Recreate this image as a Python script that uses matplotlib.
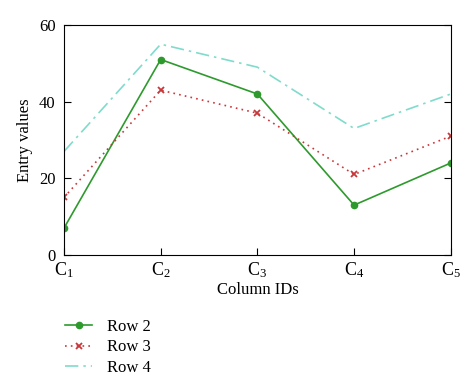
import matplotlib.pyplot as plt

plt.rcParams['font.family'] = 'Liberation Serif'
plt.rcParams['mathtext.default'] = 'regular'

columns = ['C$_1$', 'C$_2$', 'C$_3$', 'C$_4$', 'C$_5$']
row2 = [7, 51, 42, 13, 24]
row3 = [15, 43, 37, 21, 31]
row4 = [27, 55, 49, 33, 42]

fig = plt.figure(figsize=(4.74, 3.91), dpi=100)
ax = fig.add_axes([0.135, 0.348, 0.816, 0.588])
x = range(len(columns))
ax.plot(x, row2, color='#2e9a2e', lw=1.2, marker='o', ms=4.5, label='Row 2')
ax.plot(x, row3, color='#c8383a', lw=1.2, ls=(0, (1, 2.5)), marker='x', ms=5, mew=1.3, label='Row 3')
ax.plot(x, row4, color='#7fdccc', lw=1.2, ls=(0, (8, 3, 1.5, 3)), label='Row 4')

ax.set_xlim(0, 4)
ax.set_ylim(0, 60)
ax.set_xticks(list(x))
ax.set_xticklabels(columns, fontsize=13)
ax.set_yticks([0, 20, 40, 60])
ax.tick_params(axis='y', labelsize=12, direction='in', right=True, length=5, pad=6)
ax.tick_params(axis='x', direction='in', length=5, pad=4)
ax.set_xlabel('Column IDs', fontsize=12, labelpad=1)
ax.set_ylabel('Entry values', fontsize=12)

fig.legend(loc='upper left', bbox_to_anchor=(0.12, 0.205), frameon=False, fontsize=12,
           handlelength=1.6, labelspacing=0.25, handletextpad=0.9, borderpad=0)

fig.savefig('out.png')
